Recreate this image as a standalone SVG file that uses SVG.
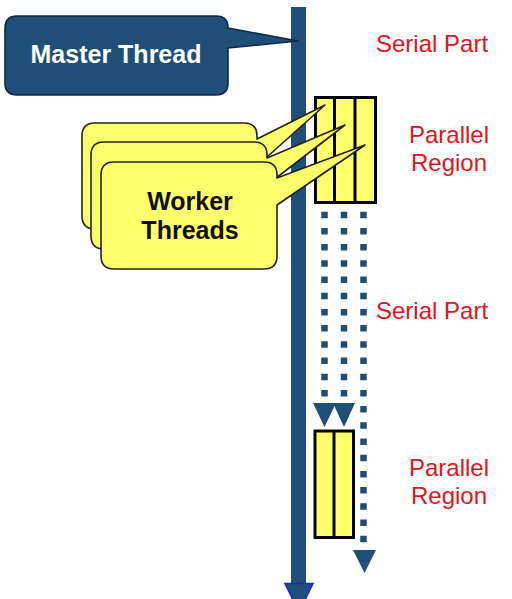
<svg xmlns="http://www.w3.org/2000/svg" width="512" height="599" viewBox="0 0 512 599">
<style>
.lbl{font-family:"Liberation Sans",Arial,sans-serif;font-size:24px;fill:#E3151B}
.bold{font-family:"Liberation Sans",Arial,sans-serif;font-weight:bold;font-size:25px;text-anchor:middle}
.pbox{fill:#FFFF6B;stroke:#000;stroke-width:3}
.div{stroke:#000;stroke-width:3}
.bub{fill:#FFFF6B;stroke:#222;stroke-width:1.6;stroke-linejoin:round}
.dots{stroke:#1F4E79;stroke-width:6.5;stroke-dasharray:6.5 9.7;fill:none}
.tri{fill:#1F4E79}
</style>
<rect width="512" height="599" fill="#fff"/>
<g id="master-bar">
<rect x="291" y="7" width="15" height="578" fill="#1F4E79"/>
<polygon points="285,583.5 313,583.5 299,612" fill="#1F4E79" stroke="#2323CF" stroke-width="1.6"/>
</g>
<g id="connectors">
<line class="dots" x1="324.5" y1="211.7" x2="324.5" y2="396.5"/>
<line class="dots" x1="344" y1="211.7" x2="344" y2="396.5"/>
<line class="dots" x1="363.5" y1="211.7" x2="363.5" y2="542.7"/>
<polygon class="tri" points="313,403 336,403 324.5,427"/>
<polygon class="tri" points="333,403 355,403 344,427"/>
<polygon class="tri" points="353,550 376,550 364.5,573"/>
</g>
<g id="parallel-region-1">
<rect class="pbox" x="315.5" y="97.5" width="60" height="105"/>
<line class="div" x1="334.5" y1="97.5" x2="334.5" y2="202.5"/>
<line class="div" x1="355" y1="97.5" x2="355" y2="202.5"/>
</g>
<g id="parallel-region-2">
<rect class="pbox" x="315" y="431" width="38.5" height="106.5"/>
<line class="div" x1="334" y1="431" x2="334" y2="537.5"/>
</g>
<g id="master-thread">
<path d="M17,16 H216 Q228,16 228,28 L298,41 L228,48 V83 Q228,95 216,95 H17 Q5,95 5,83 V28 Q5,16 17,16 Z" fill="#1F4E79" stroke="#0E2A4A" stroke-width="1.6" stroke-linejoin="round"/>
<text class="bold" x="116" y="63" fill="#fff">Master Thread</text>
</g>
<g id="worker-threads">
<path class="bub" d="M95,123 H244 Q257,123 257,136 V139 L325,105 L257,166 V216 Q257,229 244,229 H95 Q82,229 82,216 V136 Q82,123 95,123 Z"/>
<path class="bub" d="M104,142 H254 Q267,142 267,155 V158 L345,125 L267,185 V236 Q267,249 254,249 H104 Q91,249 91,236 V155 Q91,142 104,142 Z"/>
<path class="bub" d="M114,162 H264 Q277,162 277,175 V178 L365,145 L277,205 V256 Q277,269 264,269 H114 Q101,269 101,256 V175 Q101,162 114,162 Z"/>
<text class="bold" x="190" y="210" fill="#111">Worker</text>
<text class="bold" x="190" y="239" fill="#111">Threads</text>
</g>
<g id="labels">
<text class="lbl" x="376" y="52">Serial Part</text>
<text class="lbl" x="449" y="143" text-anchor="middle">Parallel</text>
<text class="lbl" x="449" y="171" text-anchor="middle">Region</text>
<text class="lbl" x="376" y="319">Serial Part</text>
<text class="lbl" x="449" y="476" text-anchor="middle">Parallel</text>
<text class="lbl" x="449" y="504" text-anchor="middle">Region</text>
</g>
</svg>
